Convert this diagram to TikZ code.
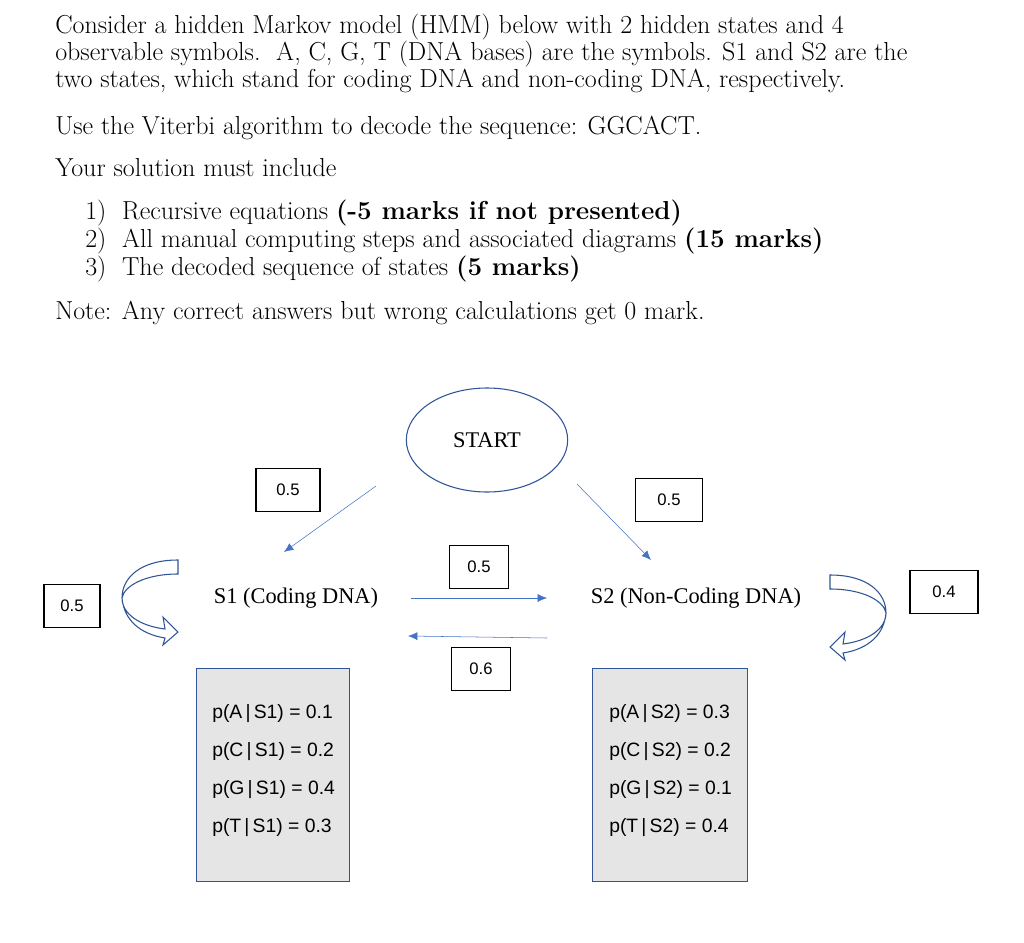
\documentclass[tikz,border=0pt]{standalone}
\usepackage{fontspec}
\usetikzlibrary{arrows.meta,shapes.geometric}
\newfontfamily\ser{Liberation Serif}
\newfontfamily\san{Liberation Sans}
\definecolor{bl}{HTML}{4472C4}
\definecolor{db}{HTML}{2F5597}
\begin{document}
\begin{tikzpicture}[x=0.75pt,y=-0.75pt,
  txt/.style={anchor=base west,inner sep=0,font=\fontsize{19.5}{22}\selectfont},
  nb/.style={draw,thick,minimum width=#1,minimum height=32pt,font=\san\fontsize{12.5}{14}\selectfont,inner sep=0},
  lab/.style={font=\ser\fontsize{16.8}{19}\selectfont},
  conn/.style={bl,-{Latex[length=7pt,width=6pt]}},
  em/.style={anchor=base west,inner sep=0,font=\san\fontsize{14.5}{16}\selectfont}]
\useasboundingbox (0,0) rectangle (1024,942);
\node[txt] (l1) at (55,34) {Consider a hidden Markov model (HMM) below with 2 hidden states and 4};
\node[txt] (l2) at (55,61) {observable symbols.\ \ A, C, G, T (DNA bases) are the symbols. S1 and S2 are the};
\node[txt] (l3) at (55,88) {two states, which stand for coding DNA and non-coding DNA, respectively.};
\node[txt] (l4) at (55,134) {Use the Viterbi algorithm to decode the sequence: GGCACT.};
\node[txt] (l5) at (55,176) {Your solution must include};
\node[txt] (n1) at (85,219) {1)\ \ Recursive equations \textbf{(-5 marks if not presented)}};
\node[txt] (n2) at (85,247) {2)\ \ All manual computing steps and associated diagrams \textbf{(15 marks)}};
\node[txt] (n3) at (85,275) {3)\ \ The decoded sequence of states \textbf{(5 marks)}};
\node[txt] (l6) at (55,319) {Note: Any correct answers but wrong calculations get 0 mark.};

\node[draw=db,thick,ellipse,minimum width=121pt,minimum height=78pt,lab] (start) at (487,440) {START};
\node[lab] (s1) at (296,598) {S1 (Coding DNA)};
\node[lab] (s2) at (696,598) {S2 (Non-Coding DNA)};

\node[nb=48pt] (b1) at (288,490) {0.5};
\node[nb=50pt] (b2) at (669,500) {0.5};
\node[nb=44pt] (b3) at (479,567) {0.5};
\node[nb=44pt] (b4) at (481,669) {0.6};
\node[nb=42pt] (b5) at (72,606) {0.5};
\node[nb=51pt] (b6) at (944,592) {0.4};

\coordinate (a1) at (376,486); \coordinate (a1e) at (284,552);
\coordinate (a2) at (577,484); \coordinate (a2e) at (651,560);
\coordinate (a3) at (411,598); \coordinate (a3e) at (547,598);
\coordinate (a4) at (547,638); \coordinate (a4e) at (408,636);
\draw[conn] (a1) -- (a1e);
\draw[conn] (a2) -- (a2e);
\draw[conn] (a3) -- (a3e);
\draw[conn] (a4) -- (a4e);

\def\carrow{(178,560) .. controls (140,560) and (122,578) .. (122,598) .. controls (122,614) and (140,626) .. (165,629) -- (163,617) -- (178,632) -- (163,645) -- (165,638) .. controls (140,634) and (124,620) .. (122,598) .. controls (124,586) and (145,574) .. (178,574) -- cycle}
\draw[db,thick,fill=white] \carrow;
\begin{scope}[xshift=1008*0.75pt,xscale=-1,yshift=-15*0.75pt]
\draw[db,thick,fill=white] \carrow;
\end{scope}

\node[draw=db,thick,fill=black!10,minimum width=115pt,minimum height=160pt] (e1) at (273,775) {};
\node[draw=db,thick,fill=black!10,minimum width=116pt,minimum height=160pt] (e2) at (670,775) {};
\node[em] at (212,718) {p(A\,|\,S1) = 0.1};
\node[em] at (212,756) {p(C\,|\,S1) = 0.2};
\node[em] at (212,794) {p(G\,|\,S1) = 0.4};
\node[em] at (212,832) {p(T\,|\,S1) = 0.3};
\node[em] at (609,718) {p(A\,|\,S2) = 0.3};
\node[em] at (609,756) {p(C\,|\,S2) = 0.2};
\node[em] at (609,794) {p(G\,|\,S2) = 0.1};
\node[em] at (609,832) {p(T\,|\,S2) = 0.4};
\end{tikzpicture}
\end{document}
